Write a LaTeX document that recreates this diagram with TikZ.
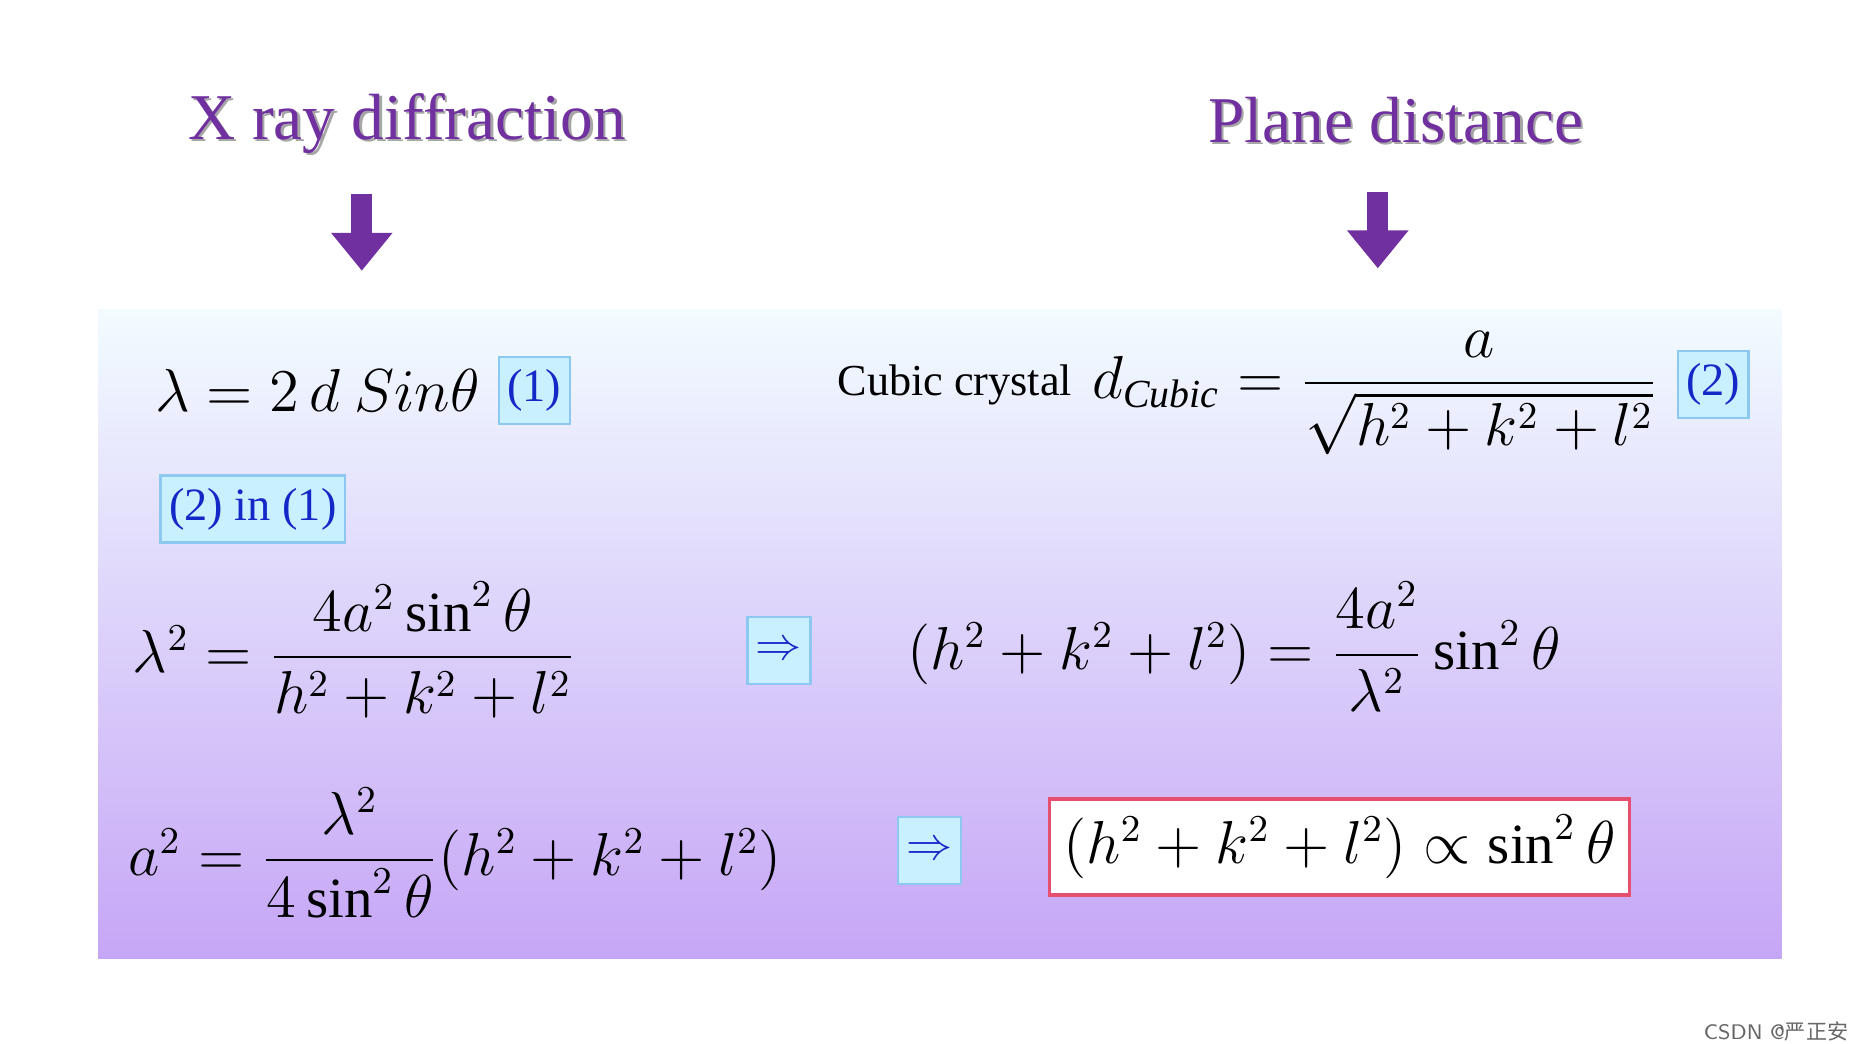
\documentclass[tikz,border=0pt]{standalone}
\usepackage{amsmath}
\usepackage{fontspec}
\setmainfont{Liberation Serif}
\newfontfamily\cjk{Noto Sans CJK SC}
\usetikzlibrary{arrows.meta}
\definecolor{ttl}{RGB}{112,48,160}
\definecolor{bx}{RGB}{200,240,255}
\definecolor{bxl}{RGB}{140,200,240}
\definecolor{eqb}{RGB}{20,40,200}
\tikzset{
  title/.style={text=ttl,font=\fontsize{15.5}{18}\selectfont},
  shd/.style={text=black!35,font=\fontsize{15.5}{18}\selectfont},
  eq/.style={font=\fontsize{13.5}{16}\selectfont},
  tag/.style={fill=bx,draw=bxl,line width=0.6pt,text=eqb,font=\fontsize{11}{13}\selectfont,inner sep=2pt},
  down/.style={ttl,line width=5pt,-{Triangle[width=14pt,length=9pt]}}
}
\begin{document}
\begin{tikzpicture}[x=0.01cm,y=-0.01cm]
\useasboundingbox (0,0) rectangle (1560,871);
\fill[white] (0,0) rectangle (1560,871);
\shade[top color={rgb,255:red,242;green,252;blue,255},bottom color={rgb,255:red,198;green,166;blue,246}] (82,258) rectangle (1487,800);
\node[shd] at (342,105) {X ray diffraction};
\node[title] (t1) at (340,103) {X ray diffraction};
\node[shd] at (1167,102) {Plane distance};
\node[title] (t2) at (1165,100) {Plane distance};
\coordinate (a1s) at (302,162); \coordinate (a1e) at (302,226);
\coordinate (a2s) at (1150,160); \coordinate (a2e) at (1150,224);
\draw[down] (a1s) -- (a1e);
\draw[down] (a2s) -- (a2e);
\node[eq] (e1) at (265,326) {$\lambda = 2\,d\ Sin\theta$};
\node[tag,minimum width=0.56cm,minimum height=0.56cm] (g1) at (446,326) {(1)};
\node[font=\fontsize{10.5}{12}\selectfont] (cc) at (797,321) {Cubic crystal};
\node[eq] (e2) at (1148,328) {$d_{\mathit{Cubic}} = \dfrac{a}{\sqrt{h^2+k^2+l^2}}$};
\node[tag,minimum width=0.56cm,minimum height=0.56cm] (g2) at (1430,321) {(2)};
\node[tag,minimum width=1.5cm,minimum height=0.56cm] (g3) at (211,425) {(2) in (1)};
\node[eq] (e3) at (296,543) {$\lambda^2 = \dfrac{4a^2\sin^2\theta}{h^2+k^2+l^2}$};
\node[tag,minimum width=0.48cm,minimum height=0.56cm] (i1) at (650,543) {$\Rightarrow$};
\node[eq] (e4) at (1030,540) {$(h^2+k^2+l^2) = \dfrac{4a^2}{\lambda^2}\sin^2\theta$};
\node[eq] (e5) at (380,712) {$a^2 = \dfrac{\lambda^2}{4\sin^2\theta}(h^2+k^2+l^2)$};
\node[tag,minimum width=0.48cm,minimum height=0.56cm] (i2) at (776,710) {$\Rightarrow$};
\node[eq,fill=white,draw={rgb,255:red,230;green,80;blue,110},line width=0.8pt,minimum width=4.74cm,minimum height=0.8cm] (e6) at (1118,707) {$(h^2+k^2+l^2)\propto\sin^2\theta$};
\node[anchor=east,text=black!60,font=\fontsize{5}{6}\selectfont\sffamily] (wm) at (1555,861) {CSDN @{\cjk 严正安}};
\end{tikzpicture}
\end{document}
